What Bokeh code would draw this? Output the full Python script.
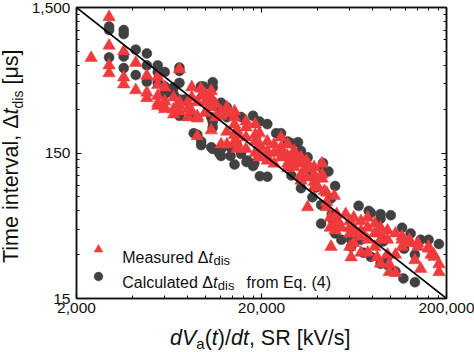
import numpy as np
from bokeh.plotting import figure
from bokeh.layouts import column, row
from bokeh.models import (FixedTicker, LogAxis, Label, Legend, LegendItem, Div,
                          NumeralTickFormatter, Range1d, CustomJSTickFormatter)
from bokeh.embed import file_html
from bokeh.resources import INLINE

# ---------------- data ----------------
meas_x = [2400, 3000, 3000, 3000, 3000, 3600, 3600, 3600, 4180, 4180,
          4800, 4800, 4800, 5500, 5500, 5500, 5500, 5500, 6000, 6000,
          6000, 6000, 6700, 6700, 6700, 7200, 7200, 7200, 7200, 8000,
          8000, 8000, 8400, 8400, 8400, 9000, 9000, 9000, 9000, 9400,
          9400, 9900, 9900, 9900, 10700, 10700, 10700, 10700, 10700, 11300,
          11300, 12100, 12100, 12100, 13000, 13000, 13000, 13000, 14300, 14300,
          14300, 14300, 14300, 14700, 14700, 14700, 15000, 15000, 16500, 16500,
          16500, 16500, 18500, 18500, 18500, 18500, 19500, 19500, 19500, 19500,
          19500, 21500, 21500, 21500, 21500, 23400, 23400, 23400, 25500, 25500,
          25500, 25500, 27700, 27700, 27700, 27700, 30000, 30000, 30000, 30000,
          32700, 32700, 32700, 32700, 35000, 35000, 35000, 36000, 35500, 38500,
          38500, 38500, 38500, 40500, 42500, 42500, 42500, 43700, 45000, 45000,
          45000, 47000, 47000, 47500, 49500, 50000, 50000, 51000, 52000, 54000,
          57000, 60000, 60000, 60000, 60000, 61000, 63000, 63000, 63000, 63000,
          69000, 69000, 69000, 69000, 75000, 75000, 75000, 75000, 82000, 82000,
          82000, 84500, 88000, 88000, 88000, 88000, 96000, 96000, 96000, 98000,
          98000, 106000, 106000, 106000, 115000, 115000, 115000, 126000, 126000, 135000,
          140000, 140000, 145000, 160000, 160000, 165000, 171000, 171000, 182000, 182000]
meas_y = [675, 1290, 820, 600, 530, 750, 496, 445, 625, 405,
          510, 390, 358, 500, 440, 370, 330, 316, 424, 340,
          309, 300, 361, 300, 276, 565, 335, 318, 290, 335,
          300, 264, 424, 361, 290, 335, 268, 259, 196, 415,
          370, 380, 335, 283, 400, 361, 325, 309, 215, 325,
          264, 290, 270, 172, 309, 280, 210, 172, 290, 264,
          236, 200, 180, 215, 177, 160, 200, 164, 247, 225,
          192, 160, 236, 200, 180, 150, 205, 172, 164, 146,
          140, 180, 155, 140, 133, 172, 150, 127, 192, 164,
          155, 140, 172, 143, 127, 118, 155, 148, 133, 120,
          140, 127, 107, 97, 133, 120, 102, 117, 63.6, 120,
          107, 95, 87, 87, 127, 107, 100, 82, 80, 69,
          63.6, 54, 46, 34, 76, 49, 44, 57, 51, 46,
          57, 51, 46, 42, 34, 28.8, 54, 46, 42, 36,
          51, 44, 40, 31, 54, 46, 38, 31, 49, 42,
          34, 28.8, 46, 42, 38, 26, 44, 38, 30, 25.8,
          22.8, 42, 30, 22.5, 40, 38, 34, 38, 36, 27.5,
          34, 36, 24, 34, 33, 30, 30, 29, 25.8, 22.8]

calc_x = [3000, 3000, 3000, 3600, 3600, 3600, 3600, 4180, 4180, 4800,
          4800, 4800, 5500, 5500, 5500, 6000, 6000, 6000, 6700, 6700,
          7200, 7200, 7200, 7200, 7200, 7700, 8300, 8600, 9000, 9440,
          9440, 9400, 9700, 10900, 10900, 10700, 10900, 10900, 10700, 10900,
          11800, 12100, 12100, 12100, 12100, 13000, 13000, 13600, 13600, 14300,
          14700, 15500, 15500, 16600, 16800, 18000, 18000, 19600, 21500, 21500,
          18300, 19500, 24000, 25500, 27700, 29000, 29000, 31500, 32700, 32700,
          32700, 35500, 35500, 38000, 37700, 39500, 42000, 43000, 43000, 46000,
          47500, 50000, 42000, 48000, 49000, 50000, 50000, 54000, 61000, 61000,
          63000, 69000, 67000, 76000, 78000, 88000, 88000, 100000, 91000, 71000,
          78000, 88000, 96000, 96000, 106000, 117000, 135000, 115000, 128000, 145000,
          160000, 182000, 135000, 118000]
calc_y = [1110, 1050, 681, 1050, 985, 690, 575, 770, 515, 725,
          600, 463, 600, 540, 455, 540, 430, 381, 424, 380,
          580, 550, 455, 350, 270, 350, 276, 205, 200, 180,
          170, 430, 430, 460, 424, 264, 245, 225, 164, 160,
          150, 332, 300, 160, 143, 309, 264, 164, 143, 125,
          172, 148, 265, 130, 133, 270, 122, 104, 103, 237,
          127, 247, 205, 205, 180, 175, 105, 178, 155, 98,
          86, 140, 117, 104, 74.5, 87, 66, 128, 115, 112,
          73, 89, 49, 57, 51, 45, 42, 38, 38, 34,
          40, 38, 65, 60, 58, 53, 57, 56, 37, 31,
          29, 26, 29, 25.5, 23, 20.6, 19.4, 46, 42, 38,
          38, 35.5, 30, 33]

line_x = [2000, 200000]
line_y = [1500, 15]

x_major = [2000, 20000, 200000]
x_minor = [4000, 6000, 8000, 10000, 12000, 14000, 16000, 18000,
           40000, 60000, 80000, 100000, 120000, 140000, 160000, 180000]
y_major = [15, 150, 1500]
y_minor = [30, 45, 60, 75, 90, 105, 120, 135,
           300, 450, 600, 750, 900, 1050, 1200, 1350]

FONT = "Liberation Sans"
CSSFONT = "font-family:'Liberation Sans',Arial,sans-serif;"
RED = "#ef3b3d"
GRAY = "#414141"

YW = 28  # width of the y-title strip
XH = 22  # height of the x-title strip

p = figure(width=474 - YW, height=352 - XH, x_axis_type="log", y_axis_type="log",
           x_range=Range1d(2000, 200000), y_range=Range1d(15, 1500),
           output_backend="svg", toolbar_location=None,
           min_border_left=75 - YW, min_border_right=28,
           min_border_top=7, min_border_bottom=32, margin=0)
p.xgrid.visible = False
p.ygrid.visible = False
p.outline_line_color = "#111111"
p.outline_line_width = 1.5
p.background_fill_color = "white"
p.border_fill_color = "white"

def style_axis(ax, show_labels):
    ax.major_tick_in = 5
    ax.major_tick_out = 0
    ax.minor_tick_in = 3
    ax.minor_tick_out = 0
    ax.axis_line_color = "#111111"
    ax.axis_line_width = 1.5
    ax.major_tick_line_color = "#111111"
    ax.minor_tick_line_color = "#111111"
    ax.major_tick_line_width = 1.2
    ax.minor_tick_line_width = 1.0
    if show_labels:
        ax.major_label_text_font = FONT
        ax.major_label_text_font_size = "15.5px"
        ax.major_label_text_color = "#111111"
        ax.formatter = NumeralTickFormatter(format="0,0")
    else:
        ax.formatter = CustomJSTickFormatter(code="return ''")
        ax.major_label_text_font_size = "1px"
        ax.major_label_standoff = 0

p.xaxis.ticker = FixedTicker(ticks=x_major, minor_ticks=x_minor)
p.yaxis.ticker = FixedTicker(ticks=y_major, minor_ticks=y_minor)
style_axis(p.xaxis[0], True)
style_axis(p.yaxis[0], True)
p.xaxis.major_label_standoff = 4
p.yaxis.major_label_standoff = 6

top = LogAxis(ticker=FixedTicker(ticks=x_major, minor_ticks=x_minor))
right = LogAxis(ticker=FixedTicker(ticks=y_major, minor_ticks=y_minor))
style_axis(top, False)
style_axis(right, False)
p.add_layout(top, "above")
p.add_layout(right, "right")

r_c = p.scatter(calc_x, calc_y, marker="circle", size=10,
                fill_color=GRAY, line_color=GRAY, line_width=0.5)
r_t = p.scatter(meas_x, meas_y, marker="triangle", size=12.5,
                fill_color=RED, line_color=RED, line_width=0.5)
p.line(line_x, line_y, line_color="black", line_width=1.6)

legend = Legend(items=[LegendItem(label=" ", renderers=[r_t]),
                       LegendItem(label=" ", renderers=[r_c])],
                location=(11, 11), padding=0, spacing=5, margin=0,
                glyph_width=22, glyph_height=22, label_height=22,
                label_text_font_size="10px", label_standoff=0,
                border_line_color=None, background_fill_alpha=0)
p.add_layout(legend)

def lab(x, y, text, size, italic=False):
    p.add_layout(Label(x=x, y=y, x_units="screen", y_units="screen", text=text,
                       text_font=FONT, text_font_size=f"{size}px",
                       text_font_style="italic" if italic else "normal",
                       text_baseline="alphabetic", text_align="left",
                       text_color="#111111"))

# legend texts
lab(45.7, 41.3, "Measured Δ", 16)
lab(132.0, 41.3, "t", 16, italic=True)
lab(136.9, 38.0, "dis", 13)
lab(45.7, 16.3, "Calculated Δ", 16)
lab(136.4, 16.3, "t", 16, italic=True)
lab(141.3, 13.0, "dis", 13)
lab(170.0, 16.3, "from Eq. (4)", 16)

# axis titles as HTML (italics and subscripts)
y_html = ('<div style="' + CSSFONT + 'font-size:21.5px;line-height:24px;color:#111;'
          'white-space:nowrap;width:max-content;position:relative;left:-1.5px;top:263px;'
          'transform-origin:0 0;transform:rotate(-90deg);margin:0;padding:0">'
          'Time interval, Δ<i>t</i><span style="font-size:14px;position:relative;top:5px">dis</span> [μs]</div>')
x_html = ('<div style="' + CSSFONT + 'font-size:21.5px;line-height:22px;color:#111;'
          'white-space:nowrap;width:max-content;position:relative;left:170px;top:-3px;margin:0;padding:0">'
          '<i>d</i><i>V</i><span style="font-size:15px;position:relative;top:4px">a</span>'
          '(<i>t</i>)/<i>dt</i>, SR [kV/s]</div>')

ydiv = Div(text=y_html, width=YW, height=352 - XH, margin=0)
xdiv = Div(text=x_html, width=474, height=XH, margin=0)

layout = column(row(ydiv, p, spacing=0, margin=0), xdiv, spacing=0, margin=0)

open("out.html", "w").write(file_html(layout, INLINE))
